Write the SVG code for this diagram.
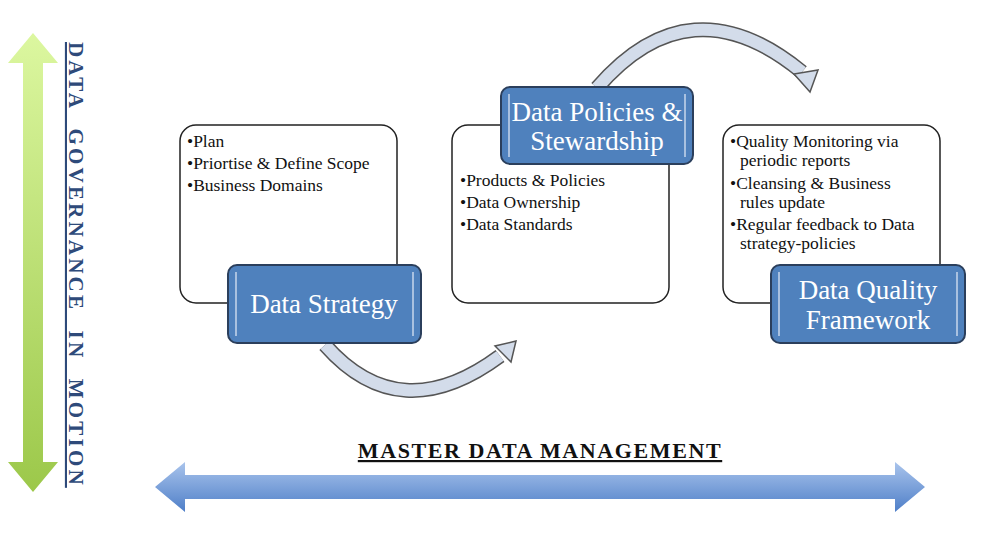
<svg xmlns="http://www.w3.org/2000/svg" width="981" height="537" viewBox="0 0 981 537">
<defs>
<linearGradient id="g" x1="0" y1="0" x2="0" y2="1"><stop offset="0" stop-color="#dcf7a0"/><stop offset="1" stop-color="#9cc84a"/></linearGradient>
<linearGradient id="b" x1="0" y1="0" x2="0" y2="1"><stop offset="0" stop-color="#a9c4ec"/><stop offset="1" stop-color="#4f7fc8"/></linearGradient>
<style>
text{font-family:"Liberation Serif",serif}
.box{fill:#fff;stroke:#222;stroke-width:1.5}
.lab{fill:#4f81bd;stroke:#2b3f5c;stroke-width:2}
.in{fill:none;stroke:#c7d6ec;stroke-width:1.5}
.t{font-size:17.5px;fill:#111}
.w{font-size:27px;fill:#fff;text-anchor:middle}
.ao{fill:none;stroke:#555;stroke-width:15}
.ai{fill:none;stroke:#d3dcea;stroke-width:12}
.ah{fill:#d3dcea;stroke:#555;stroke-width:1.5}
</style>
</defs>
<polygon points="33,33 58,63 43,63 43,462 58,462 33,492 8,462 23,462 23,63 8,63" fill="url(#g)"/>
<text transform="translate(69,42) rotate(90)" font-size="21" font-weight="bold" fill="#2e4a7a" letter-spacing="3.2" word-spacing="10" text-decoration="underline">DATA GOVERNANCE IN MOTION</text>
<g id="connectors">
<path class="ao" d="M325 345 Q400 430 500 356"/><path class="ai" d="M325 345 Q400 430 500 356"/>
<polygon class="ah" points="516,341 495,346 511,362"/>
<path class="ao" d="M597 88 Q690 -20 802 72"/><path class="ai" d="M597 88 Q690 -20 802 72"/>
<polygon class="ah" points="810,92 794,74 818,70"/>
</g>
<g id="box1"><rect class="box" x="180" y="125" width="217" height="178" rx="16"/>
<text class="t" x="187" y="147">•Plan</text><text class="t" x="187" y="169">•Priortise &amp; Define Scope</text><text class="t" x="187" y="191">•Business Domains</text></g>
<g id="box2"><rect class="box" x="452" y="125" width="217" height="178" rx="16"/>
<text class="t" x="460" y="186">•Products &amp; Policies</text><text class="t" x="460" y="208">•Data Ownership</text><text class="t" x="460" y="230">•Data Standards</text></g>
<g id="box3"><rect class="box" x="723" y="125" width="217" height="178" rx="16"/>
<text class="t" x="730" y="147">•Quality Monitoring via</text><text class="t" x="740" y="166">periodic reports</text><text class="t" x="730" y="189">•Cleansing &amp; Business</text><text class="t" x="740" y="208">rules  update</text><text class="t" x="730" y="230">•Regular feedback to Data</text><text class="t" x="740" y="249">strategy-policies</text></g>
<g id="strategy"><rect class="lab" x="228" y="265" width="193" height="78" rx="9"/><path class="in" d="M236 272V336M413 272V336"/>
<text class="w" x="324" y="313">Data Strategy</text></g>
<g id="policies"><rect class="lab" x="501" y="87" width="192" height="77" rx="9"/><path class="in" d="M509 94V157M685 94V157"/>
<text class="w" x="597" y="121">Data Policies &amp;</text><text class="w" x="597" y="150">Stewardship</text></g>
<g id="quality"><rect class="lab" x="771" y="265" width="194" height="78" rx="9"/><path class="in" d="M779 272V336M957 272V336"/>
<text class="w" x="868" y="299">Data Quality</text><text class="w" x="868" y="329">Framework</text></g>
<text x="540" y="458" font-size="22" font-weight="bold" text-anchor="middle" fill="#111" letter-spacing="1.6" text-decoration="underline">MASTER DATA MANAGEMENT</text>
<polygon points="155,487 185,462 185,475 895,475 895,462 925,487 895,512 895,499 185,499 185,512" fill="url(#b)"/>
</svg>
